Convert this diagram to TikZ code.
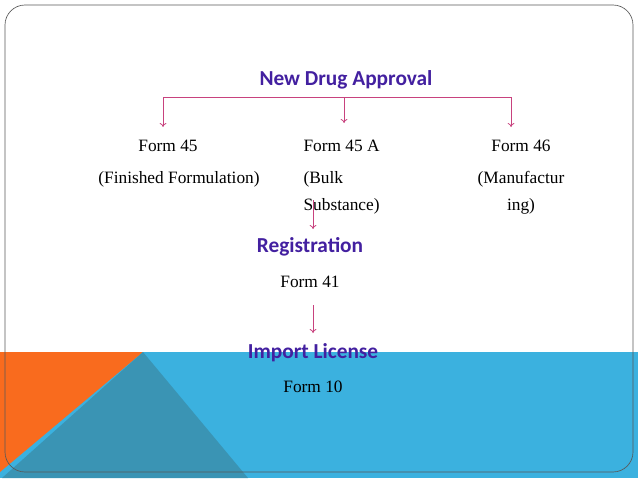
\documentclass[tikz,border=0pt]{standalone}
\usetikzlibrary{arrows.meta}
\usepackage{fontspec}
\setmainfont{Liberation Serif}
\newfontfamily\headfont{Carlito}
\definecolor{bandblue}{HTML}{3BB1DF}
\definecolor{bandorange}{HTML}{F96B1E}
\definecolor{bandteal}{HTML}{3A94B4}
\definecolor{headpurple}{HTML}{4320A0}
\definecolor{arrowpink}{HTML}{C8427E}
\tikzset{
  head/.style={font=\headfont\bfseries\fontsize{16}{18}\selectfont, text=headpurple, inner sep=1pt},
  body/.style={font=\fontsize{13}{15}\selectfont, inner sep=1pt},
  conn/.style={draw=arrowpink, line width=0.6pt, -{To[length=3pt,width=5pt]}}
}
\begin{document}
\begin{tikzpicture}[x=0.75pt,y=-0.75pt]
\useasboundingbox (0,0) rectangle (638,478);
\fill[bandblue] (0,352) rectangle (638,478);
\fill[bandorange] (0,352) -- (143,352) -- (0,472) -- cycle;
\fill[bandteal] (143,352) -- (248,478) -- (2,478) -- cycle;
\draw[gray!70!black, line width=0.5pt, rounded corners=15] (5,5) rectangle (633,472);
\node[head] (nda) at (346,80) {New Drug Approval};
\coordinate (b0) at (344,97);
\coordinate (bl) at (163,97);
\coordinate (br) at (511,97);
\coordinate (al) at (163,127);
\coordinate (am) at (344,123);
\coordinate (ar) at (511,127);
\draw[draw=arrowpink, line width=0.6pt] (bl) -- (br);
\draw[conn] (bl) -- (al);
\draw[conn] (b0) -- (am);
\draw[conn] (br) -- (ar);
\node[body] (f45) at (168,146) {Form 45};
\node[body, anchor=west] (f45a) at (302,146) {Form 45 A};
\node[body] (f46) at (521,146) {Form 46};
\node[body] (fin) at (179,179) {(Finished Formulation)};
\node[body, anchor=west] (bulk) at (302,179) {(Bulk};
\node[body, anchor=west] (subst) at (302,206) {Substance)};
\node[body] (manu) at (521,179) {(Manufactur};
\node[body] (ing) at (521,206) {ing)};
\node[head] (reg) at (310,247) {Registration};
\node[body] (f41) at (310,282) {Form 41};
\node[head] (imp) at (313,353) {Import License};
\node[body] (f10) at (313,387) {Form 10};
\coordinate (s1) at (313,200);
\coordinate (e1) at (313,229);
\draw[conn] (s1) -- (e1);
\coordinate (s2) at (313,305);
\coordinate (e2) at (313,333);
\draw[conn] (s2) -- (e2);
\end{tikzpicture}
\end{document}
